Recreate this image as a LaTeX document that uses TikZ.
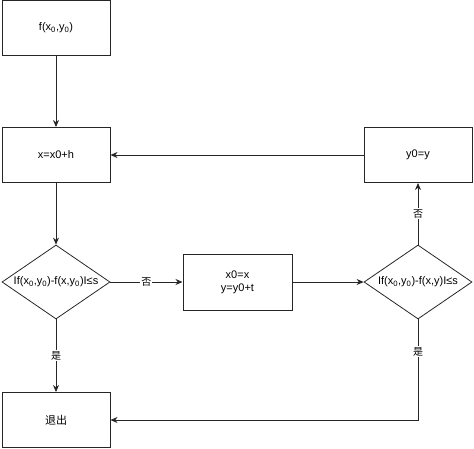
\documentclass[tikz,border=0pt]{standalone}
\usepackage{fontspec}
\setmainfont{Liberation Sans}
\newfontfamily\cjk{Noto Sans CJK SC}
\usetikzlibrary{
  positioning,
  shapes.geometric,
  arrows.meta
}

\begin{document}
\begin{tikzpicture}[x=1pt,y=-1pt,
  font=\fontsize{11}{13}\selectfont,
  process/.style={draw=black!85,line width=1pt,minimum width=108pt,minimum height=55pt,inner sep=0pt,align=center},
  decision/.style={draw=black!85,diamond,line width=0.8pt,minimum width=108pt,minimum height=74pt,inner sep=0pt},
  flow/.style={draw=black!85,line width=0.8pt,-{Stealth[length=7pt,width=6pt]}},
  tag/.style={fill=white,inner sep=1pt,font=\cjk\fontsize{10}{12}\selectfont}]
  \useasboundingbox (0,0) rectangle (474,448);

  % ノードの定義
  \node[process] (start) at (56,28) {f(x\textsubscript{0},y\textsubscript{0})};
  \node[process] (step) at (56,155) {x=x0+h};
  \node[decision,label=center:{If(x\textsubscript{0},y\textsubscript{0})-f(x,y\textsubscript{0})I≤s}] (check1) at (56,282) {};
  \node[process,minimum width=109pt,minimum height=56pt] (update) at (237.5,282) {x0=x\\y=y0+t};
  \node[decision,label=center:{If(x\textsubscript{0},y\textsubscript{0})-f(x,y)I≤s}] (check2) at (418,282) {};
  \node[process] (assign) at (418,155) {y0=y};
  \node[process] (quit) at (56,420) {\cjk 退出};

  % ノードを結ぶ
  \draw[flow] (start) -- (step);
  \draw[flow] (step) -- (check1);
  \draw[flow] (check1) -- node[tag] {是} (quit);
  \draw[flow] (check1) -- node[tag] {否} (update);
  \draw[flow] (update) -- (check2);
  \draw[flow] (check2) -- node[tag] {否} (assign);
  \draw[flow] (assign) -- (step);
  \draw[flow] (check2) |- node[tag,pos=0.16] {是} (quit);
\end{tikzpicture}
\end{document}
